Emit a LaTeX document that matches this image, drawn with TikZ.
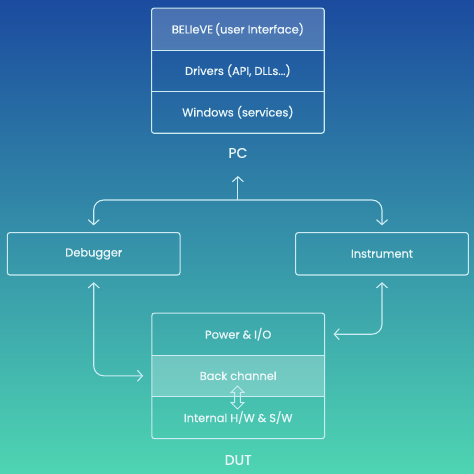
\documentclass[tikz,border=0pt]{standalone}
\usepackage{fontspec}
\setmainfont{Poppins}[FakeBold=0.6]
\usetikzlibrary{arrows.meta,shapes.arrows}
\definecolor{bgtop}{HTML}{1B4B9F}
\definecolor{bgmid}{HTML}{2B8DAF}
\definecolor{bgbot}{HTML}{4ED5B2}
\definecolor{ln}{HTML}{CDEBF2}
\definecolor{tx}{HTML}{EAF6F8}
\tikzset{
  cell/.style={minimum width=172.3pt, minimum height=41.7pt, inner sep=0pt, text=tx, font=\fontsize{11.4}{13}\selectfont},
  frame/.style={draw=ln, line width=1.1pt, rounded corners=2.5pt},
  divider/.style={draw=ln, line width=1.1pt},
  boxnode/.style={draw=ln, line width=1.1pt, rounded corners=2.5pt, minimum width=172.7pt, minimum height=42.3pt, inner sep=0pt, text=tx, font=\fontsize{11.4}{13}\selectfont},
  biglabel/.style={text=tx, font=\fontsize{14}{16}\selectfont, inner sep=0pt},
  conn/.style={draw=ln, line width=1.1pt, rounded corners=10pt},
}
\begin{document}
\begin{tikzpicture}[x=1pt,y=-1pt]
\useasboundingbox (0,0) rectangle (474,474);
\shade[top color=bgtop, middle color=bgmid, bottom color=bgbot] (0,0) rectangle (474,474);
% PC stack
\node[cell] (pc1) at (237.9,29.2) {BELIeVE\,(user Interface)};
\node[cell] (pc2) at (237.9,70.7) {Drivers (API, DLLs...)};
\node[cell] (pc3) at (237.9,112.2) {Windows (services)};
\fill[white, fill opacity=0.2] (pc1.south west) [rounded corners=2.5pt]-- (pc1.north west) -- (pc1.north east) [sharp corners]-- (pc1.south east) -- cycle;
\draw[frame] (pc1.north west) rectangle (pc3.south east);
\draw[divider] (pc1.south west) -- (pc1.south east);
\draw[divider] (pc2.south west) -- (pc2.south east);
\node[biglabel] (pc) at (237.9,153) {PC};
% middle boxes
\node[boxnode] (dbg) at (93.7,253.8) {Debugger};
\node[boxnode] (ins) at (382,253.8) {Instrument};
% DUT stack
\node[cell] (dut1) at (238.2,334.2) {Power \& I/O};
\node[cell] (dut2) at (238.2,375.8) {Back channel};
\node[cell] (dut3) at (238.2,417.6) {Internal H/W \& S/W};
\fill[white, fill opacity=0.25] (dut2.south west) rectangle (dut2.north east);
\draw[frame] (dut1.north west) rectangle (dut3.south east);
\draw[divider] (dut1.south west) -- (dut1.south east);
\draw[divider] (dut2.south west) -- (dut2.south east);
\node[biglabel] (dut) at (238.2,460) {DUT};
\node[draw=ln, line width=1pt, double arrow, rotate=90, minimum height=23pt, minimum width=12pt, inner sep=2.4pt, double arrow head extend=3.4pt, double arrow head indent=0pt] (ba) at (237.5,397.5) {};
% connectors
\coordinate (jn) at (237.9,200);
\coordinate (pcin) at (237.9,176);
\draw[conn, -{Straight Barb[length=5pt,width=11pt]}] (jn) -- (pcin);
\draw[conn, {Straight Barb[length=5pt,width=11pt]}-{Straight Barb[length=5pt,width=11pt]}] ([yshift=6.7pt]dbg.north) |- (jn) -| ([yshift=6.7pt]ins.north);
\draw[conn, {Straight Barb[length=5pt,width=11pt]}-{Straight Barb[length=5pt,width=11pt]}] ([yshift=-6.7pt]dbg.south) |- ([xshift=-8.7pt]dut2.west);
\draw[conn, {Straight Barb[length=5pt,width=11pt]}-{Straight Barb[length=5pt,width=11pt]}] ([yshift=-6.7pt]ins.south) |- ([xshift=9pt]dut1.east);
\end{tikzpicture}
\end{document}
